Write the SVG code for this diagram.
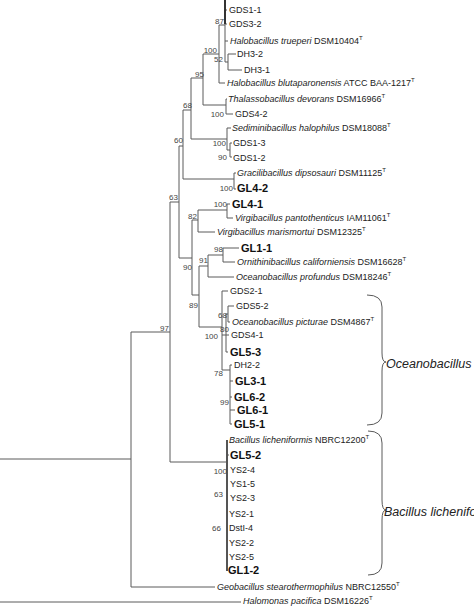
<svg xmlns="http://www.w3.org/2000/svg" width="474" height="608" viewBox="0 0 474 608">
<style>
.t{font-family:"Liberation Sans",Arial,sans-serif;font-size:9px;fill:#222}
.b{font-family:"Liberation Sans",Arial,sans-serif;font-size:11px;font-weight:bold;fill:#111}
.n{font-family:"Liberation Sans",Arial,sans-serif;font-size:8px;fill:#444;text-anchor:end}
.c{font-family:"Liberation Sans",Arial,sans-serif;font-size:12.5px;font-style:italic;fill:#222}
.i{font-style:italic}
.s{font-size:6px}
.e{fill:none;stroke:#5a5a5a;stroke-width:1}
.k{fill:none;stroke:#333;stroke-width:2}
.g{fill:none;stroke:#555;stroke-width:2}
</style>
<rect width="474" height="608" fill="#fff"/>
<g id="connectors">
<path class="e" d="M0 459H131M131 332V587M131 332H170M131 587H215M0 602H241
M170 202V462M170 462H227M170 202H179
M179 146V258M179 146H183M179 258H192
M183 110V179M183 110H191M183 179H234
M234 173V189M234 173H236M234 189H236
M191 78V139M191 78H203M191 139H227
M227 128V150M227 128H231M227 150H230M230 143V157M230 143H232M230 157H232
M203 54V105M203 54H219M203 105H226
M226 99V114M226 99H227M226 114H233
M219 25V83M219 25H225M219 83H225
M225 24V62M225 10H227M225 24H227M225 41H228M225 62H228M228 54V70M228 54H236M228 70H242
M192 220V295M192 220H198M192 295H199
M198 210V232M198 210H227M198 232H215
M227 204V218M227 204H230M227 218H233
M199 266V327M199 266H208M199 327H222
M208 255V277M208 255H223M208 277H234
M223 248V262M223 248H239M223 262H235
M222 291V370M222 291H228M222 335H226M222 370H230
M226 314V352M226 314H228M226 335H229M226 352H228
M228 306V322M228 306H234M228 322H230
M230 365V424M230 365H232M230 381H233M230 397H232M230 410H235M230 424H232
M227 455H229"/>
<path class="k" d="M225 0V24"/>
<path class="g" d="M227 440V571"/>
<path class="e" d="M367 295Q382 295 382 307V353Q382 362 386 362Q382 362 382 371V413Q382 425 367 425"/>
<path class="e" d="M368 431Q382 431 382 443V500Q382 510 386 510Q382 510 382 520V563Q382 575 368 575"/>
</g>
<g id="support">
<text class="n" x="224" y="24">87</text>
<text class="n" x="217" y="53">100</text>
<text class="n" x="223" y="62">52</text>
<text class="n" x="204" y="77">95</text>
<text class="n" x="192" y="108">68</text>
<text class="n" x="224" y="117">100</text>
<text class="n" x="183" y="143">60</text>
<text class="n" x="226" y="146">100</text>
<text class="n" x="227" y="160">90</text>
<text class="n" x="233" y="191">100</text>
<text class="n" x="178" y="200">63</text>
<text class="n" x="227" y="207">100</text>
<text class="n" x="197" y="219">82</text>
<text class="n" x="223" y="252">98</text>
<text class="n" x="208" y="263">91</text>
<text class="n" x="192" y="270">90</text>
<text class="n" x="198" y="308">89</text>
<text class="n" x="227" y="318">68</text>
<text class="n" x="229" y="332">80</text>
<text class="n" x="218" y="339">100</text>
<text class="n" x="223" y="376">78</text>
<text class="n" x="229" y="405">99</text>
<text class="n" x="169" y="331">97</text>
<text class="n" x="227" y="474">100</text>
<text class="n" x="223" y="497">63</text>
<text class="n" x="221" y="531">66</text>
</g>
<g id="n-GDS1-1"><text class="t" x="229" y="13">GDS1-1</text></g>
<g id="n-GDS3-2"><text class="t" x="229" y="27">GDS3-2</text></g>
<g id="n-Htrueperi"><text class="t" x="230" y="44"><tspan class="i">Halobacillus trueperi</tspan> DSM10404<tspan class="s" dy="-4">T</tspan></text></g>
<g id="n-DH3-2"><text class="t" x="237" y="57">DH3-2</text></g>
<g id="n-DH3-1"><text class="t" x="244" y="73">DH3-1</text></g>
<g id="n-Hblut"><text class="t" x="227" y="86"><tspan class="i">Halobacillus blutaparonensis</tspan> ATCC BAA-1217<tspan class="s" dy="-4">T</tspan></text></g>
<g id="n-Tdev"><text class="t" x="228" y="102"><tspan class="i">Thalassobacillus devorans</tspan> DSM16966<tspan class="s" dy="-4">T</tspan></text></g>
<g id="n-GDS4-2"><text class="t" x="235" y="117">GDS4-2</text></g>
<g id="n-Shal"><text class="t" x="232" y="131"><tspan class="i">Sediminibacillus halophilus</tspan> DSM18088<tspan class="s" dy="-4">T</tspan></text></g>
<g id="n-GDS1-3"><text class="t" x="233" y="146">GDS1-3</text></g>
<g id="n-GDS1-2"><text class="t" x="233" y="161">GDS1-2</text></g>
<g id="n-Gdip"><text class="t" x="237" y="176"><tspan class="i">Gracilibacillus dipsosauri</tspan> DSM11125<tspan class="s" dy="-4">T</tspan></text></g>
<g id="n-GL4-2"><text class="b" x="237" y="192">GL4-2</text></g>
<g id="n-GL4-1"><text class="b" x="232" y="208">GL4-1</text></g>
<g id="n-Vpan"><text class="t" x="235" y="221"><tspan class="i">Virgibacillus pantothenticus</tspan> IAM11061<tspan class="s" dy="-4">T</tspan></text></g>
<g id="n-Vmar"><text class="t" x="217" y="235"><tspan class="i">Virgibacillus marismortui</tspan> DSM12325<tspan class="s" dy="-4">T</tspan></text></g>
<g id="n-GL1-1"><text class="b" x="241" y="252">GL1-1</text></g>
<g id="n-Ocal"><text class="t" x="237" y="265"><tspan class="i">Ornithinibacillus californiensis</tspan> DSM16628<tspan class="s" dy="-4">T</tspan></text></g>
<g id="n-Opro"><text class="t" x="236" y="280"><tspan class="i">Oceanobacillus profundus</tspan> DSM18246<tspan class="s" dy="-4">T</tspan></text></g>
<g id="n-GDS2-1"><text class="t" x="230" y="294">GDS2-1</text></g>
<g id="n-GDS5-2"><text class="t" x="236" y="309">GDS5-2</text></g>
<g id="n-Opic"><text class="t" x="232" y="325"><tspan class="i">Oceanobacillus picturae</tspan> DSM4867<tspan class="s" dy="-4">T</tspan></text></g>
<g id="n-GDS4-1"><text class="t" x="231" y="338">GDS4-1</text></g>
<g id="n-GL5-3"><text class="b" x="230" y="356">GL5-3</text></g>
<g id="n-DH2-2"><text class="t" x="234" y="368">DH2-2</text></g>
<g id="n-GL3-1"><text class="b" x="235" y="385">GL3-1</text></g>
<g id="n-GL6-2"><text class="b" x="234" y="401">GL6-2</text></g>
<g id="n-GL6-1"><text class="b" x="237" y="414">GL6-1</text></g>
<g id="n-GL5-1"><text class="b" x="234" y="428">GL5-1</text></g>
<g id="n-Blic"><text class="t" x="229" y="443"><tspan class="i">Bacillus licheniformis</tspan> NBRC12200<tspan class="s" dy="-4">T</tspan></text></g>
<g id="n-GL5-2"><text class="b" x="230" y="459">GL5-2</text></g>
<g id="n-YS2-4"><text class="t" x="230" y="473">YS2-4</text></g>
<g id="n-YS1-5"><text class="t" x="230" y="487">YS1-5</text></g>
<g id="n-YS2-3"><text class="t" x="230" y="501">YS2-3</text></g>
<g id="n-YS2-1"><text class="t" x="229" y="517">YS2-1</text></g>
<g id="n-DstI-4"><text class="t" x="229" y="531">DstI-4</text></g>
<g id="n-YS2-2"><text class="t" x="229" y="546">YS2-2</text></g>
<g id="n-YS2-5"><text class="t" x="229" y="560">YS2-5</text></g>
<g id="n-GL1-2"><text class="b" x="228" y="574">GL1-2</text></g>
<g id="n-Gste"><text class="t" x="217" y="590"><tspan class="i">Geobacillus stearothermophilus</tspan> NBRC12550<tspan class="s" dy="-4">T</tspan></text></g>
<g id="n-Hpac"><text class="t" x="243" y="604"><tspan class="i">Halomonas pacifica</tspan> DSM16226<tspan class="s" dy="-4">T</tspan></text></g>
<g id="clade-Oceano"><text class="c" x="386" y="368">Oceanobacillus</text></g>
<g id="clade-Bacillus"><text class="c" x="384" y="516">Bacillus licheniformis</text></g>
</svg>
